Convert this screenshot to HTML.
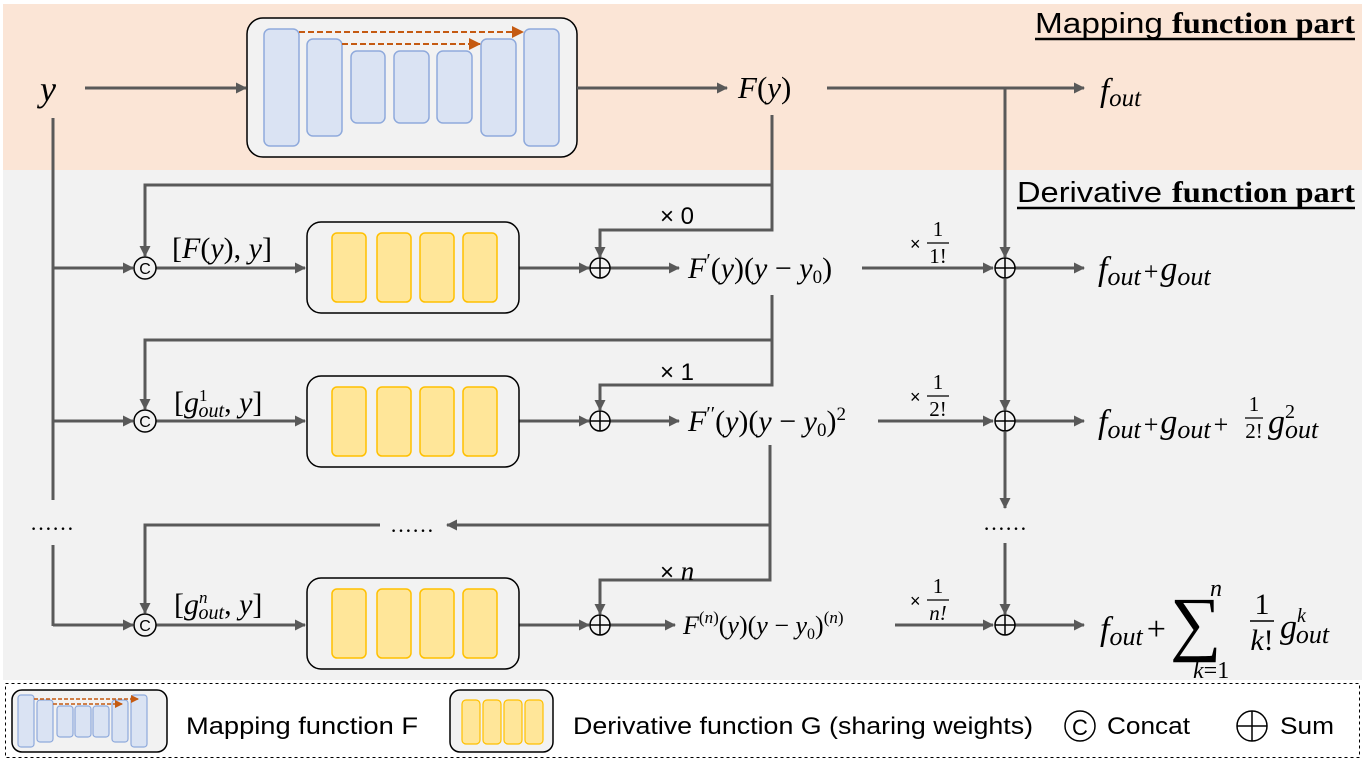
<!DOCTYPE html>
<html><head><meta charset="utf-8"><style>
html,body{margin:0;padding:0;background:#fff;}
svg{display:block;}
.m{font-family:"Liberation Serif",serif;font-style:italic;fill:#000;}
.n{font-family:"Liberation Serif",serif;fill:#000;}
.s{font-family:"Liberation Sans",sans-serif;fill:#000;}
</style></head><body>
<svg width="1370" height="762" viewBox="0 0 1370 762" xmlns="http://www.w3.org/2000/svg">
<defs>
<marker id="a" markerWidth="11" markerHeight="11" refX="10" refY="5.5" orient="auto" markerUnits="userSpaceOnUse"><path d="M0,0 L11,5.5 L0,11 z" fill="#595959"/></marker>
<marker id="o" markerWidth="12" markerHeight="12" refX="11" refY="6" orient="auto" markerUnits="userSpaceOnUse"><path d="M0,0 L12,6 L0,12 z" fill="#c55a11"/></marker>
<marker id="o2" markerWidth="8" markerHeight="8" refX="7" refY="4" orient="auto" markerUnits="userSpaceOnUse"><path d="M0,0 L8,4 L0,8 z" fill="#c55a11"/></marker>
<g id="ybars">
<rect x="0" y="0" width="34" height="69" rx="5" fill="#ffe699" stroke="#ffc000" stroke-width="1.5"/>
<rect x="45" y="0" width="34" height="69" rx="5" fill="#ffe699" stroke="#ffc000" stroke-width="1.5"/>
<rect x="88" y="0" width="34" height="69" rx="5" fill="#ffe699" stroke="#ffc000" stroke-width="1.5"/>
<rect x="131" y="0" width="34" height="69" rx="5" fill="#ffe699" stroke="#ffc000" stroke-width="1.5"/>
</g>
<g id="gbox">
<rect x="0" y="0" width="212" height="91" rx="14" fill="#f2f2f2" stroke="#000" stroke-width="1.5"/>
<use href="#ybars" x="25" y="11"/>
</g>
<g id="plus"><circle r="10" fill="none" stroke="#000" stroke-width="1.5"/><path d="M-10,0H10M0,-10V10" stroke="#000" stroke-width="1.5"/></g>
<g id="cc"><circle r="11" fill="#f2f2f2" stroke="#000" stroke-width="1.5"/><text x="0" y="6" text-anchor="middle" class="s" font-size="16">C</text></g>
</defs>
<rect x="3" y="4" width="1359" height="166" fill="#fbe5d6"/>
<rect x="3" y="170" width="1359" height="510" fill="#f2f2f2"/>
<rect x="5.5" y="683.5" width="1354" height="74" fill="#fff" stroke="#000" stroke-width="1" stroke-dasharray="3,3"/>

<text x="1035" y="33" class="s" font-size="29" textLength="128" lengthAdjust="spacingAndGlyphs">Mapping</text>
<text x="1172" y="33" font-family="Liberation Serif" font-weight="bold" font-size="30" textLength="183" lengthAdjust="spacingAndGlyphs">function part</text>
<line x1="1035" y1="39" x2="1355" y2="39" stroke="#000" stroke-width="2.5"/>
<text x="1017" y="202" class="s" font-size="29" textLength="145" lengthAdjust="spacingAndGlyphs">Derivative</text>
<text x="1172" y="202" font-family="Liberation Serif" font-weight="bold" font-size="30" textLength="183" lengthAdjust="spacingAndGlyphs">function part</text>
<line x1="1017" y1="208" x2="1355" y2="208" stroke="#000" stroke-width="2.5"/>

<rect x="247" y="18" width="330" height="139" rx="16" fill="#f2f2f2" stroke="#000" stroke-width="1.5"/>
<g fill="#dae3f3" stroke="#8faadc" stroke-width="1.5">
<rect x="264" y="29" width="35" height="117" rx="6"/>
<rect x="307" y="39" width="35" height="97" rx="6"/>
<rect x="351" y="51" width="34" height="72" rx="6"/>
<rect x="394" y="51" width="35" height="72" rx="6"/>
<rect x="437" y="51" width="35" height="72" rx="6"/>
<rect x="481" y="39" width="35" height="97" rx="6"/>
<rect x="524" y="29" width="35" height="117" rx="6"/>
</g>
<g stroke="#c55a11" stroke-width="2" stroke-dasharray="6,3">
<line x1="299" y1="32" x2="523" y2="32" marker-end="url(#o)"/>
<line x1="342" y1="44" x2="480" y2="44" marker-end="url(#o)"/>
</g>

<g stroke="#595959" stroke-width="3" fill="none">
<line x1="85" y1="88" x2="246" y2="88" marker-end="url(#a)"/>
<line x1="577" y1="88" x2="727" y2="88" marker-end="url(#a)"/>
<line x1="827" y1="88" x2="1084" y2="88" marker-end="url(#a)"/>
<line x1="1005" y1="88" x2="1005" y2="257" marker-end="url(#a)"/>
<line x1="1005" y1="279" x2="1005" y2="410" marker-end="url(#a)"/>
<line x1="1005" y1="432" x2="1005" y2="508" marker-end="url(#a)"/>
<line x1="1005" y1="543" x2="1005" y2="614" marker-end="url(#a)"/>
<line x1="53" y1="118" x2="53" y2="500"/>
<line x1="53" y1="545" x2="53" y2="626"/>
<line x1="53" y1="268" x2="133" y2="268" marker-end="url(#a)"/>
<line x1="53" y1="421" x2="133" y2="421" marker-end="url(#a)"/>
<line x1="53" y1="625" x2="133" y2="625" marker-end="url(#a)"/>
<polyline points="772,115 772,185 145,185 145,256" marker-end="url(#a)"/>
<polyline points="772,185 772,230 600,230 600,257" marker-end="url(#a)"/>
<polyline points="772,295 772,340 145,340 145,409" marker-end="url(#a)"/>
<polyline points="772,340 772,385 600,385 600,410" marker-end="url(#a)"/>
<polyline points="770,445 770,580 600,580 600,614" marker-end="url(#a)"/>
<line x1="770" y1="525" x2="447" y2="525" marker-end="url(#a)"/>
<polyline points="380,525 145,525 145,613" marker-end="url(#a)"/>
<line x1="156" y1="268" x2="305" y2="268" marker-end="url(#a)"/>
<line x1="519" y1="268" x2="589" y2="268" marker-end="url(#a)"/>
<line x1="610" y1="268" x2="679" y2="268" marker-end="url(#a)"/>
<line x1="862" y1="268" x2="993" y2="268" marker-end="url(#a)"/>
<line x1="1015" y1="268" x2="1084" y2="268" marker-end="url(#a)"/>
<line x1="156" y1="421" x2="305" y2="421" marker-end="url(#a)"/>
<line x1="519" y1="421" x2="589" y2="421" marker-end="url(#a)"/>
<line x1="610" y1="421" x2="679" y2="421" marker-end="url(#a)"/>
<line x1="878" y1="421" x2="993" y2="421" marker-end="url(#a)"/>
<line x1="1015" y1="421" x2="1084" y2="421" marker-end="url(#a)"/>
<line x1="156" y1="625" x2="305" y2="625" marker-end="url(#a)"/>
<line x1="519" y1="625" x2="589" y2="625" marker-end="url(#a)"/>
<line x1="610" y1="625" x2="675" y2="625" marker-end="url(#a)"/>
<line x1="895" y1="625" x2="993" y2="625" marker-end="url(#a)"/>
<line x1="1015" y1="625" x2="1084" y2="625" marker-end="url(#a)"/>
</g>

<use href="#gbox" x="307" y="222"/>
<use href="#gbox" x="307" y="376"/>
<use href="#gbox" x="307" y="578"/>
<use href="#cc" x="145" y="268"/><use href="#cc" x="145" y="421"/><use href="#cc" x="145" y="625"/>
<use href="#plus" x="600" y="268"/><use href="#plus" x="600" y="421"/><use href="#plus" x="600" y="625"/>
<use href="#plus" x="1005" y="268"/><use href="#plus" x="1005" y="421"/><use href="#plus" x="1005" y="625"/>

<text x="40" y="101" class="m" font-size="36">y</text>
<text x="738" y="98" class="m" font-size="31">F<tspan font-style="normal">(</tspan>y<tspan font-style="normal">)</tspan></text>
<text x="1100" y="101" class="m" font-size="33">f<tspan font-size="25" dy="5">out</tspan></text>

<text x="172" y="258" class="n" font-size="30">[<tspan font-style="italic">F</tspan>(<tspan font-style="italic">y</tspan>), <tspan font-style="italic">y</tspan>]</text>
<text x="174" y="412" class="n" font-size="30">[<tspan font-style="italic">g</tspan><tspan font-size="17" dy="-11">1</tspan><tspan font-size="20" font-style="italic" dx="-9" dy="16">out</tspan><tspan dy="-5">, </tspan><tspan font-style="italic">y</tspan>]</text>
<text x="174" y="614" class="n" font-size="30">[<tspan font-style="italic">g</tspan><tspan font-size="17" font-style="italic" dy="-11">n</tspan><tspan font-size="20" font-style="italic" dx="-9" dy="16">out</tspan><tspan dy="-5">, </tspan><tspan font-style="italic">y</tspan>]</text>

<text x="660" y="224" class="s" font-size="24">× 0</text>
<text x="660" y="380" class="s" font-size="24">× 1</text>
<text x="660" y="580" class="s" font-size="24">× <tspan class="m" font-size="27">n</tspan></text>

<text x="688" y="278" class="n" font-size="30"><tspan font-style="italic">F</tspan><tspan font-size="20" dy="-11">′</tspan><tspan dy="11">(</tspan><tspan font-style="italic">y</tspan>)(<tspan font-style="italic">y</tspan> − <tspan font-style="italic">y</tspan><tspan font-size="19" dy="5">0</tspan><tspan dy="-5">)</tspan></text>
<text x="688" y="431" class="n" font-size="30"><tspan font-style="italic">F</tspan><tspan font-size="20" dy="-11">′′</tspan><tspan dy="11">(</tspan><tspan font-style="italic">y</tspan>)(<tspan font-style="italic">y</tspan> − <tspan font-style="italic">y</tspan><tspan font-size="19" dy="5">0</tspan><tspan dy="-5">)</tspan><tspan font-size="19" dy="-11">2</tspan></text>
<text x="683" y="634" class="n" font-size="26"><tspan font-style="italic">F</tspan><tspan font-size="17" dy="-11">(<tspan font-style="italic">n</tspan>)</tspan><tspan dy="11">(</tspan><tspan font-style="italic">y</tspan>)(<tspan font-style="italic">y</tspan> − <tspan font-style="italic">y</tspan><tspan font-size="16" dy="5">0</tspan><tspan dy="-5">)</tspan><tspan font-size="17" dy="-11">(<tspan font-style="italic">n</tspan>)</tspan></text>

<text x="910" y="250" class="s" font-size="18">×</text><text x="938" y="236" class="n" font-size="21" text-anchor="middle">1</text><line x1="927" y1="243" x2="949" y2="243" stroke="#000" stroke-width="1.3"/><text x="938" y="263" class="n" font-size="21" text-anchor="middle">1!</text>
<text x="910" y="403" class="s" font-size="18">×</text><text x="938" y="389" class="n" font-size="21" text-anchor="middle">1</text><line x1="927" y1="396" x2="949" y2="396" stroke="#000" stroke-width="1.3"/><text x="938" y="416" class="n" font-size="21" text-anchor="middle">2!</text>
<text x="910" y="607" class="s" font-size="18">×</text><text x="938" y="593" class="n" font-size="21" text-anchor="middle">1</text><line x1="927" y1="600" x2="949" y2="600" stroke="#000" stroke-width="1.3"/><text x="938" y="620" class="m" font-size="21" text-anchor="middle">n!</text>

<text x="1098" y="280" class="m" font-size="34">f<tspan font-size="26" dy="5">out</tspan><tspan font-style="normal" font-size="26" dy="-5" dx="3">+</tspan><tspan dx="2">g</tspan><tspan font-size="26" dy="5">out</tspan></text>
<text x="1098" y="433" class="m" font-size="34">f<tspan font-size="26" dy="5">out</tspan><tspan font-style="normal" font-size="26" dy="-5" dx="3">+</tspan><tspan dx="2">g</tspan><tspan font-size="26" dy="5">out</tspan><tspan font-style="normal" font-size="26" dy="-5" dx="3">+</tspan></text>
<text x="1254" y="411" class="n" font-size="21" text-anchor="middle">1</text><line x1="1245" y1="418" x2="1263" y2="418" stroke="#000" stroke-width="1.3"/><text x="1254" y="438" class="n" font-size="21" text-anchor="middle">2!</text>
<text x="1268" y="433" class="m" font-size="34">g<tspan font-size="20" font-style="normal" dy="-15">2</tspan><tspan font-size="26" dx="-10" dy="20">out</tspan></text>

<text x="1100" y="640" class="m" font-size="34">f<tspan font-size="26" dy="5">out</tspan><tspan font-style="normal" font-size="34" dy="-5" dx="4">+</tspan></text>
<text x="1170" y="647" class="n" font-size="72">∑</text>
<text x="1210" y="596" class="m" font-size="24">n</text>
<text x="1193" y="678" class="m" font-size="24">k<tspan font-style="normal">=1</tspan></text>
<text x="1262" y="614" class="n" font-size="30" text-anchor="middle">1</text>
<line x1="1250" y1="621" x2="1274" y2="621" stroke="#000" stroke-width="1.5"/>
<text x="1262" y="650" class="m" font-size="30" text-anchor="middle">k<tspan font-style="normal">!</tspan></text>
<text x="1280" y="638" class="m" font-size="34">g<tspan font-size="20" dy="-16">k</tspan><tspan font-size="26" dx="-10" dy="21">out</tspan></text>

<text x="30" y="530" class="n" font-size="22">……</text>
<text x="390" y="532" class="n" font-size="22">……</text>
<text x="983" y="530" class="n" font-size="22">……</text>

<rect x="12" y="690" width="155" height="62" rx="10" fill="#f2f2f2" stroke="#000" stroke-width="1.5"/>
<g fill="#dae3f3" stroke="#8faadc" stroke-width="1.2">
<rect x="18" y="695" width="16" height="52" rx="3"/><rect x="37" y="700" width="16" height="42" rx="3"/>
<rect x="57" y="706" width="16" height="31" rx="3"/><rect x="75" y="706" width="16" height="31" rx="3"/>
<rect x="93" y="706" width="16" height="31" rx="3"/><rect x="112" y="700" width="16" height="42" rx="3"/>
<rect x="131" y="695" width="16" height="52" rx="3"/>
</g>
<g stroke="#c55a11" stroke-width="1.5" stroke-dasharray="4,2">
<line x1="34" y1="699" x2="138" y2="699" marker-end="url(#o2)"/>
<line x1="53" y1="704" x2="122" y2="704" marker-end="url(#o2)"/>
</g>
<text x="186" y="734" class="s" font-size="24" textLength="232" lengthAdjust="spacingAndGlyphs">Mapping function F</text>
<rect x="450" y="690" width="103" height="62" rx="10" fill="#f2f2f2" stroke="#000" stroke-width="1.5"/>
<g fill="#ffe699" stroke="#ffc000" stroke-width="1.2">
<rect x="462" y="700" width="18" height="44" rx="4"/><rect x="483" y="700" width="18" height="44" rx="4"/>
<rect x="504" y="700" width="18" height="44" rx="4"/><rect x="525" y="700" width="18" height="44" rx="4"/>
</g>
<text x="573" y="734" class="s" font-size="24" textLength="460" lengthAdjust="spacingAndGlyphs">Derivative function G (sharing weights)</text>
<circle cx="1080" cy="726" r="15" fill="none" stroke="#000" stroke-width="1.5"/>
<text x="1080" y="735" class="s" font-size="22" text-anchor="middle">C</text>
<text x="1107" y="734" class="s" font-size="24" textLength="83" lengthAdjust="spacingAndGlyphs">Concat</text>
<circle cx="1252" cy="726" r="15" fill="none" stroke="#000" stroke-width="1.5"/>
<path d="M1237,726H1267M1252,711V741" stroke="#000" stroke-width="1.5"/>
<text x="1280" y="734" class="s" font-size="24" textLength="54" lengthAdjust="spacingAndGlyphs">Sum</text>
</svg>
</body></html>
